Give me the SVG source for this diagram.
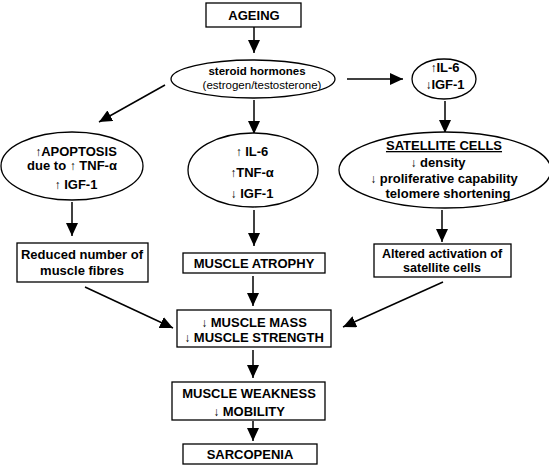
<svg xmlns="http://www.w3.org/2000/svg" width="549" height="473" viewBox="0 0 549 473">
<defs>
<marker id="ah" markerUnits="userSpaceOnUse" markerWidth="14" markerHeight="12" refX="13" refY="6" orient="auto">
<path d="M0,0 L13,6 L0,12 Z" fill="#000"/>
</marker>
<style>
.b{fill:#fff;stroke:#000;stroke-width:1.3}
.t{font-family:"Liberation Sans",Arial,sans-serif;font-weight:bold;font-size:13px;text-anchor:middle;fill:#000}
.s{font-size:11.5px}
.n{font-weight:normal}
.ar{font-weight:bold;font-family:"Liberation Sans",Arial,sans-serif;font-size:12px;fill:#000}
.c line{stroke:#000;stroke-width:1.5;marker-end:url(#ah)}
</style>
</defs>
<rect width="549" height="473" fill="#fff"/>
<g id="connectors" class="c">
<line x1="254" y1="27" x2="254" y2="53"/>
<line x1="347" y1="79" x2="403" y2="79"/>
<line x1="445" y1="101" x2="445" y2="133"/>
<line x1="165" y1="85" x2="99" y2="122"/>
<line x1="254" y1="100" x2="254" y2="134"/>
<line x1="72" y1="202" x2="72" y2="236"/>
<line x1="254" y1="210" x2="254" y2="246"/>
<line x1="442" y1="210" x2="442" y2="242"/>
<line x1="253" y1="276" x2="253" y2="306"/>
<line x1="85" y1="287" x2="173" y2="328"/>
<line x1="443" y1="282" x2="343" y2="327"/>
<line x1="253" y1="350" x2="253" y2="378"/>
<line x1="253" y1="421" x2="253" y2="441"/>
</g>
<g id="ageing">
<rect class="b" x="206" y="3" width="95" height="24"/>
<text class="t" x="254" y="20">AGEING</text>
</g>
<g id="steroid">
<ellipse class="b" cx="253" cy="79" rx="82" ry="19"/>
<text class="t s" x="257" y="75">steroid hormones</text>
<text class="t s n" x="262" y="89">(estrogen/testosterone)</text>
</g>
<g id="il6igf">
<ellipse class="b" cx="444" cy="79" rx="32" ry="20"/>
<text class="t" x="445" y="72"><tspan class="ar">↑&#xFE0E;</tspan>IL-6</text>
<text class="t" x="445" y="89"><tspan class="ar">↓&#xFE0E;</tspan>IGF-1</text>
</g>
<g id="apoptosis">
<ellipse class="b" cx="72" cy="166" rx="71" ry="34"/>
<text class="t" x="76" y="156"><tspan class="ar">↑&#xFE0E;</tspan>APOPTOSIS</text>
<text class="t" x="72" y="170">due to <tspan class="ar">↑&#xFE0E;</tspan> TNF-α</text>
<text class="t" x="76" y="189"><tspan class="ar">↑&#xFE0E;</tspan> IGF-1</text>
</g>
<g id="cytokines">
<ellipse class="b" cx="253" cy="170" rx="65" ry="37"/>
<text class="t" x="252" y="156"><tspan class="ar">↑&#xFE0E;</tspan> IL-6</text>
<text class="t" x="252" y="177"><tspan class="ar">↑&#xFE0E;</tspan>TNF-α</text>
<text class="t" x="252" y="198"><tspan class="ar">↓&#xFE0E;</tspan> IGF-1</text>
</g>
<g id="satellite">
<ellipse class="b" cx="445" cy="170" rx="106" ry="38"/>
<text class="t" x="444" y="150" text-decoration="underline">SATELLITE CELLS</text>
<text class="t" x="438" y="167"><tspan class="ar">↓&#xFE0E;</tspan> density</text>
<text class="t" x="444" y="183"><tspan class="ar">↓&#xFE0E;</tspan> proliferative capability</text>
<text class="t" x="448" y="198">telomere shortening</text>
</g>
<g id="reduced">
<rect class="b" x="17" y="243" width="131" height="39"/>
<text class="t" x="82" y="259">Reduced number of</text>
<text class="t" x="82" y="275">muscle fibres</text>
</g>
<g id="atrophy">
<rect class="b" x="183" y="253" width="142" height="20"/>
<text class="t" x="254" y="268">MUSCLE ATROPHY</text>
</g>
<g id="altered">
<rect class="b" x="374" y="244" width="137" height="33"/>
<text class="t" x="442" y="258" style="font-size:12.5px">Altered activation of</text>
<text class="t" x="442" y="272" style="font-size:12.5px">satellite cells</text>
</g>
<g id="mass">
<rect class="b" x="177" y="310" width="154" height="37"/>
<text class="t" x="254" y="327"><tspan class="ar">↓&#xFE0E;</tspan> MUSCLE MASS</text>
<text class="t" x="254" y="342"><tspan class="ar">↓&#xFE0E;</tspan> MUSCLE STRENGTH</text>
</g>
<g id="weakness">
<rect class="b" x="172" y="382" width="153" height="38"/>
<text class="t" x="249" y="398">MUSCLE WEAKNESS</text>
<text class="t" x="249" y="416"><tspan class="ar">↓&#xFE0E;</tspan> MOBILITY</text>
</g>
<g id="sarcopenia">
<rect class="b" x="183" y="444" width="134" height="20"/>
<text class="t" x="250" y="459">SARCOPENIA</text>
</g>
</svg>
